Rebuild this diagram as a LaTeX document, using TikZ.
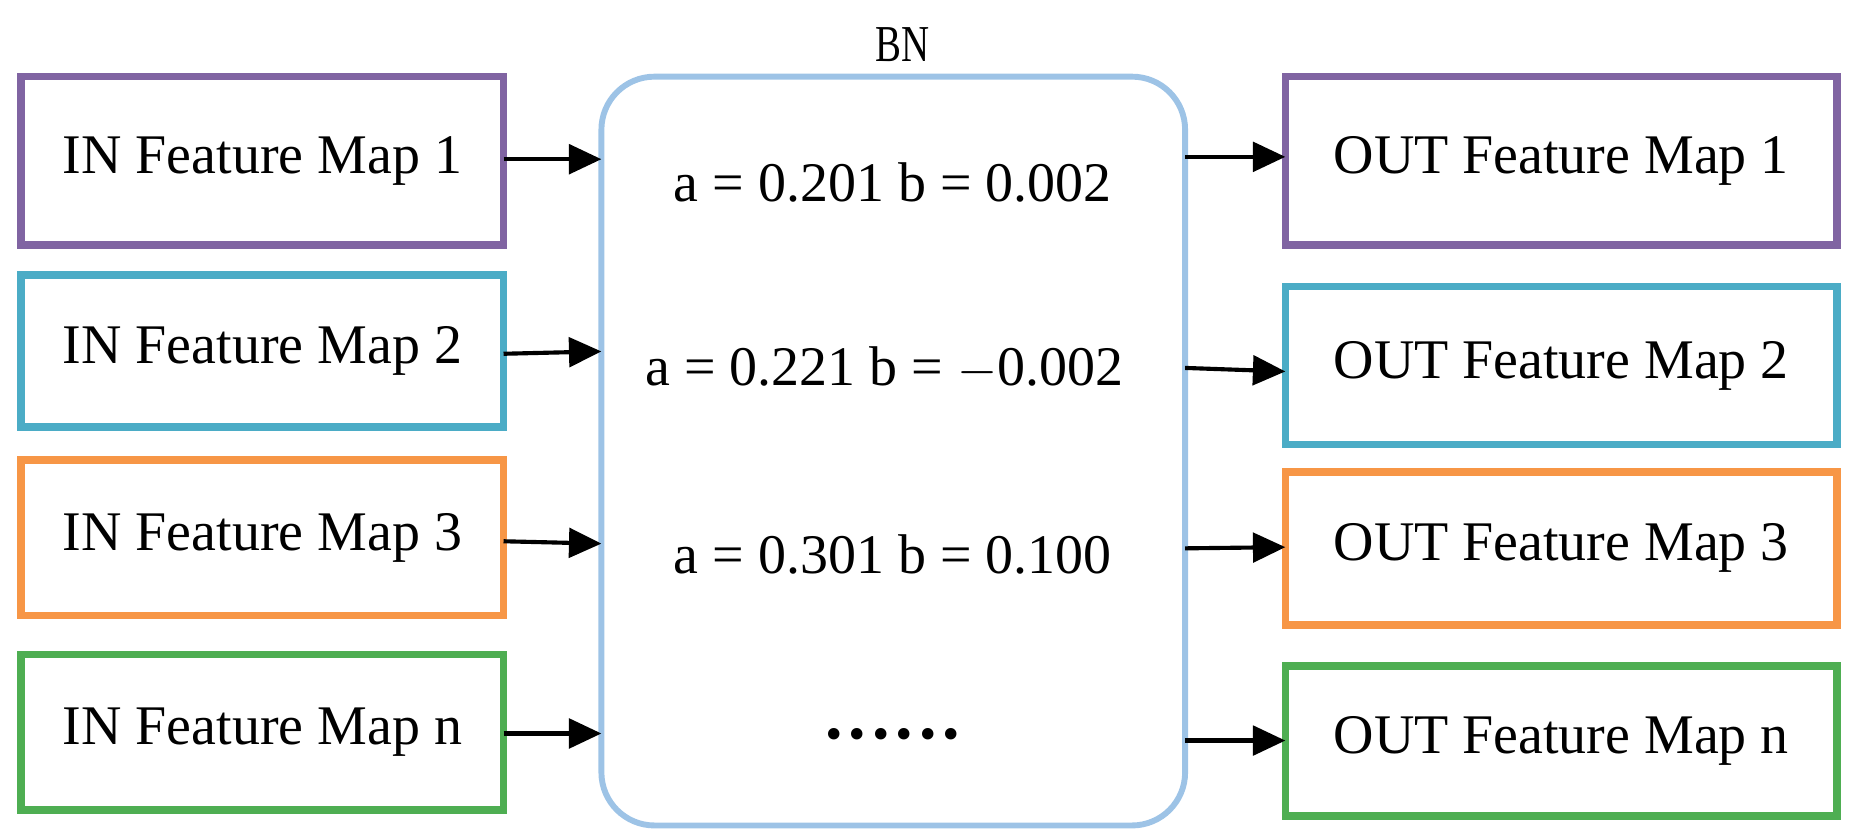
\documentclass[tikz,border=0pt]{standalone}
\usepackage{fontspec}
\setmainfont{Liberation Serif}
\usetikzlibrary{arrows.meta}
\definecolor{cp}{HTML}{8064A2}\definecolor{ct}{HTML}{4BACC6}
\definecolor{co}{HTML}{F79646}\definecolor{cg}{HTML}{4EAE52}
\definecolor{cb}{HTML}{9DC3E6}
\begin{document}
\begin{tikzpicture}[x=0.02cm,y=-0.02cm,
 box/.style={draw,line width=0.13cm,font=\fontsize{27}{30}\selectfont},
 arr/.style={-{Triangle[length=0.55cm,width=0.5cm]},line width=0.07cm},
 txt/.style={font=\fontsize{27}{30}\selectfont}]
\useasboundingbox (0,0) rectangle (1568,711);
\node[box,cp,text=black,minimum width=409*0.02cm,minimum height=143*0.02cm] (i1) at (222.5,136.5) {IN Feature Map 1};
\node[box,ct,text=black,minimum width=409*0.02cm,minimum height=129*0.02cm] (i2) at (222.5,297.5) {IN Feature Map 2};
\node[box,co,text=black,minimum width=409*0.02cm,minimum height=132*0.02cm] (i3) at (222.5,456) {IN Feature Map 3};
\node[box,cg,text=black,minimum width=409*0.02cm,minimum height=132*0.02cm] (i4) at (222.5,621) {IN Feature Map n};
\node[box,cp,text=black,minimum width=468*0.02cm,minimum height=143*0.02cm] (o1) at (1324,136.5) {OUT Feature Map 1};
\node[box,ct,text=black,minimum width=468*0.02cm,minimum height=134*0.02cm] (o2) at (1324,310) {OUT Feature Map 2};
\node[box,co,text=black,minimum width=468*0.02cm,minimum height=130*0.02cm] (o3) at (1324,465) {OUT Feature Map 3};
\node[box,cg,text=black,minimum width=468*0.02cm,minimum height=127*0.02cm] (o4) at (1324,628.5) {OUT Feature Map n};
\node[draw=cb,line width=0.1cm,rounded corners=0.9cm,minimum width=495*0.02cm,minimum height=635*0.02cm] (bn) at (757.5,382.5) {};
\node[font=\fontsize{25}{28}\selectfont\addfontfeature{FakeStretch=0.75}] (bnl) at (765,38) {BN};
\node[txt] (t1) at (757,155) {a = 0.201 b = 0.002};
\node[txt] (t2) at (750,312) {a = 0.221 b = $-$0.002};
\node[txt] (t3) at (757,470) {a = 0.301 b = 0.100};
\node[txt,font=\fontsize{34}{36}\selectfont] (t4) at (757,630) {\textbf{\textperiodcentered\textperiodcentered\textperiodcentered\textperiodcentered\textperiodcentered\textperiodcentered}};
\coordinate (l1) at (510,135);\coordinate (l2) at (510,298);
\coordinate (l3) at (510,461);\coordinate (l4) at (510,622);
\coordinate (r1) at (1005,133);\coordinate (r2) at (1005,312);
\coordinate (r3) at (1005,465);\coordinate (r4) at (1005,628);
\draw[arr] (427,135) -- (l1);
\draw[arr] (427,300) -- (l2);
\draw[arr] (427,459) -- (l3);
\draw[arr] (427,622) -- (l4);
\draw[arr] (r1) -- (1090,133);
\draw[arr] (r2) -- (1090,315);
\draw[arr] (r3) -- (1090,464);
\draw[arr] (r4) -- (1090,628);
\end{tikzpicture}
\end{document}
